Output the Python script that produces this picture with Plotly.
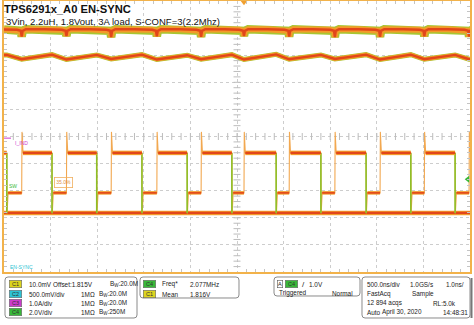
import numpy as np
import plotly.graph_objects as go

# ---------------- data ----------------
t_rise_ns = [190, 670, 1150, 1640, 2115, 2575, 3060, 3550, 4035, 4510, 4990]
t_fall_ns = [30, 515, 995, 1480, 1965, 2445, 2920, 3400, 3885, 4365, 4840]

sw_low_V = 0.0
sw_high_V = 2.95
sw_overshoot_V = 4.5
sw_undershoot_V = -1.5

i_ind_rise_A = [2.91, 2.90, 2.92, 2.90, 2.91, 2.90, 2.91, 2.92, 2.90, 2.91, 2.91]
i_ind_fall_A = [3.07, 3.08, 3.07, 3.08, 3.06, 3.08, 3.09, 3.07, 3.08, 3.08, 3.07]

vout_base_mV = 0.2
vout_dip_mV = [-2.4, -2.2, -2.6, -2.3, -2.5, -2.2, -2.4, -2.6, -2.5, -2.3, -2.4]
vout_shape_dt_ns = [-50, -10, 0, 10, 45, 250]
vout_shape_mV = [0.1, -0.3, None, -0.3, 0.3, 0.3]   # None -> the dip value of that cycle

en_sync_V = 1.09
trigger_level_V = 1.0
trigger_time_ns = 2575

title_1 = "TPS6291x_A0 EN-SYNC"
title_2 = "3Vin, 2.2uH, 1.8Vout, 3A load, S-CONF=3(2.2Mhz)"

ch_rows = [
    ("C1", "10.0mV", "Offset:1.815V", "", "B<sub>W</sub>:20.0M"),
    ("C2", "500.0mV/div", "", "1MΩ", "B<sub>W</sub>:20.0M"),
    ("C3", "1.0A/div", "", "1MΩ", "B<sub>W</sub>:20.0M"),
    ("C4", "2.0V/div", "", "1MΩ", "B<sub>W</sub>:250M"),
]
meas_rows = [("C4", "Freq*", "2.077MHz"), ("C1", "Mean", "1.816V")]
acq_rows = [
    ["500.0ns/div", "1.0GS/s", "1.0ns/"],
    ["FastAcq", "Sample", ""],
    ["12 894 acqs", "", "RL:5.0k"],
    ["Auto", "April 30, 2020", "14:48:31"],
]

# ---------------- channel display settings (div from bottom, units/div) ----
C1_POS, C1_SCALE = 8.93, 10.0     # mV/div
C2_POS, C2_SCALE = 0.0, 0.5       # V/div
C3_POS, C3_SCALE = 4.94, 1.0      # A/div
C4_POS, C4_SCALE = 2.92, 2.0      # V/div

CH_COL = {"C1": "#dcd41e", "C2": "#2cc3d3", "C3": "#cc3ccc", "C4": "#38b838"}

W, H = 474, 325
L, R, T, B = 4, 470, 1, 272
DIV_PX = (B - T) / 10.0


def PX(x):
    return (x - L) / (R - L)


def PY(y):
    return (B - y) / (B - T)


def sw_div(v):
    return C4_POS + v / C4_SCALE


fig = go.Figure()

# graticule centre-cross ticks
cx = np.arange(100, 5000, 100)
fig.add_trace(go.Scatter(x=cx, y=[5] * len(cx), mode="markers",
                         marker=dict(symbol="line-ns", size=5, line=dict(width=1, color="#bdbdbd")),
                         hoverinfo="skip"))
cy = np.arange(0.2, 10, 0.2)
fig.add_trace(go.Scatter(x=[2500] * len(cy), y=cy, mode="markers",
                         marker=dict(symbol="line-ew", size=5, line=dict(width=1, color="#bdbdbd")),
                         hoverinfo="skip"))

ORANGE = "#f39a2a"
RED = "#e2461a"
GREEN = "#a8c630"

# ---- EN-SYNC (C2) flat line ----
en_y = C2_POS + en_sync_V / C2_SCALE
fig.add_trace(go.Scatter(x=[0, 5000], y=[en_y, en_y], mode="lines",
                         line=dict(color=ORANGE, width=4.5), hoverinfo="skip"))
fig.add_trace(go.Scatter(x=[0, 5000], y=[en_y, en_y], mode="lines",
                         line=dict(color=RED, width=2.2), hoverinfo="skip"))

# ---- SW node (C4) ----
events = sorted([(t, "f") for t in t_fall_ns] + [(t, "r") for t in t_rise_ns])
hi, lo, ov, un = sw_div(sw_high_V), sw_div(sw_low_V), sw_div(sw_overshoot_V), sw_div(sw_undershoot_V)
sw_x, sw_y = [0], [hi]
for t, k in events:
    if k == "f":
        sw_x += [t, t + 3, t + 14]
        sw_y += [hi, un, lo]
    else:
        sw_x += [t, t + 3, t + 14]
        sw_y += [lo, ov, hi]
sw_x.append(5000)
sw_y.append(hi if events[-1][1] == "r" else lo)
fig.add_trace(go.Scatter(x=sw_x, y=sw_y, mode="lines",
                         line=dict(color="#f2a850", width=1.1), hoverinfo="skip"))

# falling edges (green)
fx, fy = [], []
for t in t_fall_ns:
    fx += [t, t, None]
    fy += [hi, un, None]
fig.add_trace(go.Scatter(x=fx, y=fy, mode="lines",
                         line=dict(color="#8cbf26", width=1.6), hoverinfo="skip"))

# plateaus
hx, hy, lx, ly = [], [], [], []
prev_t = None
for t, k in events:
    if k == "f":
        start = 0 if prev_t is None else prev_t + 14
        hx += [start, t, None]
        hy += [hi, hi, None]
    else:
        lx += [prev_t + 14, t, None]
        ly += [lo, lo, None]
    prev_t = t
if events[-1][1] == "r":
    hx += [events[-1][0] + 14, 5000, None]
    hy += [hi, hi, None]
for xs, ys, w1, w2 in [(hx, hy, 4.5, 2.2), (lx, ly, 3.5, 1.6)]:
    fig.add_trace(go.Scatter(x=xs, y=ys, mode="lines", line=dict(color=ORANGE, width=w1), hoverinfo="skip"))
    fig.add_trace(go.Scatter(x=xs, y=ys, mode="lines", line=dict(color=RED, width=w2), hoverinfo="skip"))

# ---- inductor current (C3) ----
ri = {t: i for t, i in zip(t_rise_ns, i_ind_rise_A)}
fi = {t: i for t, i in zip(t_fall_ns, i_ind_fall_A)}
ix, iy = [0], [C3_POS + i_ind_fall_A[0] / C3_SCALE]
for t, k in events:
    ix.append(t)
    iy.append(C3_POS + (fi[t] if k == "f" else ri[t]) / C3_SCALE)
ix.append(5000)
iy.append(iy[-1])
fig.add_trace(go.Scatter(x=ix, y=iy, mode="lines", line=dict(color=GREEN, width=5), hoverinfo="skip"))
fig.add_trace(go.Scatter(x=ix, y=iy, mode="lines", line=dict(color=ORANGE, width=4), hoverinfo="skip"))
fig.add_trace(go.Scatter(x=ix, y=iy, mode="lines", line=dict(color=RED, width=2.4), hoverinfo="skip"))

# ---- Vout ripple (C1) ----
vx, vy = [0], [C1_POS + vout_base_mV / C1_SCALE]
for r, dip in zip(t_rise_ns, vout_dip_mV):
    for dt, mv in zip(vout_shape_dt_ns, vout_shape_mV):
        vx.append(r + dt)
        vy.append(C1_POS + (dip if mv is None else mv) / C1_SCALE)
fig.add_trace(go.Scatter(x=vx, y=vy, mode="lines", line=dict(color=GREEN, width=8.5), hoverinfo="skip"))
fig.add_trace(go.Scatter(x=vx, y=vy, mode="lines", line=dict(color=ORANGE, width=6), hoverinfo="skip"))
fig.add_trace(go.Scatter(x=vx, y=vy, mode="lines", line=dict(color=RED, width=2.4), hoverinfo="skip"))

# ---- trigger markers ----
fig.add_trace(go.Scatter(x=[trigger_time_ns], y=[9.95], mode="markers", cliponaxis=False,
                         marker=dict(symbol="triangle-down", size=6, color="#f0a030"), hoverinfo="skip"))
fig.add_trace(go.Scatter(x=[4975], y=[sw_div(trigger_level_V)], mode="markers", cliponaxis=False,
                         marker=dict(symbol="triangle-left", size=6, color=CH_COL["C4"]), hoverinfo="skip"))

# ---- channel ground markers (left) ----
for ch, pos in [("C1", C1_POS), ("C3", C3_POS), ("C4", C4_POS), ("C2", C2_POS)]:
    fig.add_trace(go.Scatter(x=[-25], y=[pos], mode="markers", cliponaxis=False,
                             marker=dict(symbol="triangle-right", size=8, color=CH_COL[ch]),
                             hoverinfo="skip"))
fig.add_shape(type="line", xref="paper", yref="paper", x0=PX(4), x1=PX(11), y0=PY(B - C3_POS * DIV_PX),
              y1=PY(B - C3_POS * DIV_PX), line=dict(color=CH_COL["C3"], width=1))


def txt(x, y, s, size=6.4, color="#222", anchor="left", bold=False, **kw):
    fig.add_annotation(x=PX(x), y=PY(y), xref="paper", yref="paper", text=("<b>%s</b>" % s) if bold else s,
                       showarrow=False, xanchor=anchor, yanchor="middle",
                       font=dict(size=size, color=color, family="Liberation Sans, Arial"), **kw)


txt(13, B - C3_POS * DIV_PX + 5, "I_IND", size=5, color=CH_COL["C3"])
txt(7, B - C4_POS * DIV_PX - 7, "SW", size=5, color=CH_COL["C4"])
txt(8, B - C2_POS * DIV_PX - 5, "EN-SYNC", size=5, color=CH_COL["C2"])

# small measurement box
txt(63.5, 182, "35.0%", size=5, color="#e09040", anchor="center",
    bordercolor="#f0b060", borderwidth=0.8, borderpad=1.5)

# titles
txt(2, 9, title_1, size=11.2, color="#111", bold=True)
txt(4, 22, title_2, size=9.5, color="#111")


def rrect(x0, y0, x1, y1, r):
    pts = [("M", x0 + r, y0), ("L", x1 - r, y0), ("Q", x1, y0, x1, y0 + r), ("L", x1, y1 - r),
           ("Q", x1, y1, x1 - r, y1), ("L", x0 + r, y1), ("Q", x0, y1, x0, y1 - r), ("L", x0, y0 + r),
           ("Q", x0, y0, x0 + r, y0)]
    s = ""
    for p in pts:
        c = p[0]
        coords = p[1:]
        s += c + " " + " ".join("%.5f,%.5f" % (PX(coords[i]), PY(coords[i + 1])) for i in range(0, len(coords), 2)) + " "
    return s + "Z"


def box(x0, y0, x1, y1, col="#8a8a8a", fill="rgba(255,255,255,0)", r=3, w=1):
    fig.add_shape(type="path", xref="paper", yref="paper", path=rrect(x0, y0, x1, y1, r),
                  line=dict(color=col, width=w), fillcolor=fill, layer="below")


def pill(x, y, ch):
    txt(x + 6.5, y, ch, size=5.5, color="#333", anchor="center",
        bgcolor=CH_COL[ch], bordercolor="#666", borderwidth=0.6, borderpad=0, width=12, height=6.5)


# info panel
box(5, 277, 137, 318)
rows_y = [284, 294, 303, 312]
for (ch, a, b, c, d), y in zip(ch_rows, rows_y):
    pill(9, y, ch)
    txt(27, y, a)
    if b:
        txt(51, y, b)
    if c:
        txt(79, y, c)
    txt(97 if not b else 108, y, d)

box(140, 277, 239, 298)
for (ch, a, b), y in zip(meas_rows, rows_y[:2]):
    pill(143, y, ch)
    txt(160, y, a)
    txt(188, y, b)

box(274, 277, 360, 296)
txt(280, 284, "A", size=5.5, anchor="center", bordercolor="#555", borderwidth=0.6, borderpad=0.5)
pill(285, 284, "C4")
txt(300, 284, "/", size=8)
txt(307, 284, "1.0V")
txt(277, 293, "Triggered")
txt(330, 293, "Normal")

box(362, 277, 470, 318)
fig.add_shape(type="line", xref="paper", yref="paper", x0=PX(471.5), x1=PX(471.5), y0=PY(278), y1=PY(318),
              line=dict(color="#777", width=2))
acq_x = [[365, 408, 444], [365, 410, None], [365, None, 431], [365, 380, 441]]
for row, xs, y in zip(acq_rows, acq_x, rows_y):
    for s, x in zip(row, xs):
        if s:
            txt(x, y, s)

fig.update_layout(
    width=W, height=H, margin=dict(l=L, r=W - R, t=T, b=H - B, autoexpand=False),
    paper_bgcolor="white", plot_bgcolor="white", showlegend=False,
    xaxis=dict(range=[0, 5000], tick0=0, dtick=500, showticklabels=False, showgrid=True,
               gridcolor="#cdcdcd", griddash="dot", gridwidth=1, zeroline=False,
               showline=True, linecolor="#f2b24a", linewidth=2, mirror="ticks", ticks="",
               minor=dict(dtick=100, ticks="inside", ticklen=3, tickcolor="#c4c4c4", showgrid=False),
               fixedrange=True),
    yaxis=dict(range=[0, 10], tick0=0, dtick=1, showticklabels=False, showgrid=True,
               gridcolor="#cdcdcd", griddash="dot", gridwidth=1, zeroline=False,
               showline=True, linecolor="#f2b24a", linewidth=2, mirror="ticks", ticks="",
               minor=dict(dtick=0.2, ticks="inside", ticklen=3, tickcolor="#c4c4c4", showgrid=False),
               fixedrange=True),
)

fig.write_html("out.html")
